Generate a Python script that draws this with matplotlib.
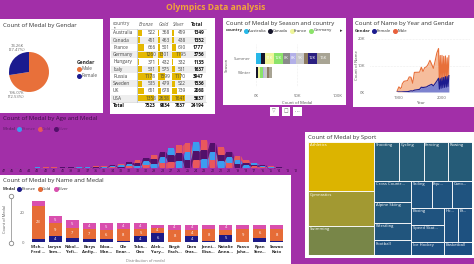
import numpy as np
import matplotlib.pyplot as plt
from matplotlib.patches import Rectangle
from matplotlib.lines import Line2D
from matplotlib.colors import LinearSegmentedColormap

plt.rcParams['font.family'] = ['Open Sans', 'DejaVu Sans']

W, H = 474, 264
BG = '#a22fa8'

# ---------------- data ----------------
gender_labels = ['Male', 'Female']
gender_counts = [196070, 74260]
gender_colors = ['#e8703a', '#1b1b8f']

countries = ['Australia', 'Canada', 'France', 'Germany', 'Hungary',
             'Italy', 'Russia', 'Sweden', 'UK', 'USA']
bronze = [522, 451, 666, 1260, 371, 531, 1178, 535, 651, 1358]
gold = [368, 463, 501, 1301, 432, 575, 1599, 479, 678, 2638]
silver = [459, 438, 610, 1195, 332, 531, 1170, 522, 739, 1641]

seasons = ['Summer', 'Winter']
summer_medals = [6500, 4000, 11000, 11500, 8000, 8000, 9000, 5000, 11500, 15500]
winter_medals = [400, 2000, 2200, 3500, 100, 1800, 3000, 2500, 700, 3200]
country_colors = ['#27b8e8', '#15152a', '#eef59a', '#8be36a', '#8a8a8a',
                  '#b3b0e8', '#c9c9c9', '#8c7a60', '#2a1f80', '#a8a494']

years = [1896, 1900, 1904, 1906, 1908, 1912, 1920, 1924, 1928, 1932, 1936,
         1948, 1952, 1956, 1960, 1964, 1968, 1972, 1976, 1980, 1984, 1988,
         1992, 1994, 1996, 1998, 2000, 2002, 2004, 2006, 2008, 2010, 2012,
         2014, 2016]
female_names = [0, 33, 16, 11, 47, 87, 134, 261, 462, 369, 700, 1000, 1800,
                1700, 1800, 1900, 2300, 2600, 2900, 2300, 3200, 4100, 5200,
                1100, 5000, 1400, 5400, 1600, 5500, 1750, 5800, 1850, 5800,
                2100, 6200]
male_names = [380, 1903, 1285, 1722, 3054, 3953, 4158, 5432, 5112, 2952, 6701,
              6480, 7558, 6041, 7435, 7580, 8179, 9359, 7602, 6637, 8388,
              10576, 11213, 2060, 8780, 2205, 8421, 2509, 7943, 2632, 7802,
              2552, 7120, 2791, 7488]

ages = [47, 46, 45, 44, 43, 42, 41, 40, 39, 38, 37, 36, 35, 34, 33, 32, 31, 30,
        29, 28, 27, 26, 25, 24, 23, 22, 21, 20, 19, 18, 17, 16, 15, 14, 13, 12]
age_bronze = [5, 6, 7, 6, 9, 8, 10, 12, 14, 17, 20, 27, 35, 52, 66, 95, 120, 170,
              210, 270, 330, 360, 400, 430, 440, 410, 320, 270, 200, 130, 90, 50,
              25, 12, 5, 2]
age_gold = [6, 4, 7, 8, 8, 9, 11, 11, 13, 18, 19, 28, 40, 46, 70, 85, 130, 160,
            230, 250, 300, 380, 420, 400, 470, 380, 350, 250, 210, 140, 80, 45,
            28, 11, 6, 1]
age_silver = [4, 5, 6, 6, 8, 8, 9, 12, 13, 15, 21, 25, 35, 52, 64, 95, 125, 170,
              210, 280, 320, 360, 380, 420, 440, 410, 330, 280, 190, 130, 80, 55,
              22, 12, 4, 2]
age_colors = ['#3c9cf0', '#e8585c', '#52106a']

athletes = ['Mich...\nFred ...', 'Larysa\nSem...', 'Nikol...\nYefi...',
            'Borys\nAnfiy...', 'Edoa...\nMan...', 'Ole\nEinar...',
            'Taka...\nOno', 'Alek...\nYury...', 'Birgit\nFisch...',
            'Dara\nGras...', 'Jenni...\nElisa...', 'Natalie\nAnna...',
            'Paavo\nJoha...', 'Ryan\nStev...', 'Sawao\nKato']
ath_bronze = [2, 4, 3, 2, 2, 1, 4, 6, 0, 4, 1, 5, 0, 3, 1]
ath_gold = [23, 9, 7, 7, 6, 8, 5, 4, 8, 4, 8, 3, 9, 6, 8]
ath_silver = [3, 5, 5, 4, 5, 4, 4, 2, 4, 4, 3, 4, 3, 3, 3]
medal_colors = ['#1c1a86', '#e66c37', '#d94fae']

sports = ['Athletics', 'Gymnastics', 'Swimming', 'Shooting', 'Cycling',
          'Fencing', 'Rowing', 'Cross Countr...', 'Alpine Skiing', 'Wrestling',
          'Football', 'Sailing', 'Equ...', 'Cano...', 'Boxing', 'Speed Skat...',
          'Ice Hockey', 'Ho...', 'Bi...', 'Basketball']
sport_medals = [1617, 1122, 957, 475, 470, 468, 465, 378, 376, 324, 262, 270,
                270, 268, 272, 270, 208, 238, 236, 182]
sport_groups = [3, 4, 4, 3, 3, 2, 1]

# ---------------- helpers ----------------
fig = plt.figure(figsize=(W / 100, H / 100), dpi=100)
fig.patch.set_facecolor(BG)
R = fig.canvas.get_renderer()


def box(x0, y0, x1, y1, color='white'):
    fig.add_artist(Rectangle((x0 / W, 1 - y1 / H), (x1 - x0) / W, (y1 - y0) / H,
                             transform=fig.transFigure, facecolor=color,
                             edgecolor='none', zorder=0))


def ax_at(x0, y0, x1, y1):
    return fig.add_axes([x0 / W, 1 - y1 / H, (x1 - x0) / W, (y1 - y0) / H])


def ftext(x, y, s, **kw):
    kw.setdefault('va', 'center')
    return fig.text(x / W, 1 - y / H, s, **kw)


def inline_legend(x, y, title, labels, colors, tcolor='#333333', fs=3.4):
    t = ftext(x, y, title, fontsize=fs, fontweight='bold', color=tcolor)
    cx = t.get_window_extent(R).x1 + 3
    for lab, col in zip(labels, colors):
        fig.add_artist(Line2D([cx / W], [1 - y / H], marker='o', markersize=2.6,
                              color=col, linestyle='none',
                              transform=fig.transFigure))
        t = ftext(cx + 2.5, y, lab, fontsize=fs, color=tcolor)
        cx = t.get_window_extent(R).x1 + 4


def strip_treemap(values, groups, x, y, w, h):
    vals = np.array(values, float)
    vals = vals * (w * h) / vals.sum()
    rects, idx = [], 0
    for c in groups:
        part = vals[idx:idx + c]
        if w >= h:
            cw = part.sum() / h
            yy = y
            for a in part:
                rects.append((x, yy, cw, a / cw))
                yy += a / cw
            x += cw
            w -= cw
        else:
            rh = part.sum() / w
            xx = x
            for a in part:
                rects.append((xx, y, a / rh, rh))
                xx += a / rh
            y += rh
            h -= rh
        idx += c
    return rects


# ---------------- title ----------------
ftext(216, 8, 'Olympics Data analysis', fontsize=6.2, fontweight='bold',
      color='#f2a33a', ha='center')

# ---------------- pie ----------------
box(0, 19, 103, 113)
ftext(3, 25, 'Count of Medal by Gendar', fontsize=4.3, color='#333333')
ax_p = ax_at(8, 51, 50, 93)
ax_p.pie(gender_counts, colors=gender_colors, startangle=90, counterclock=False,
         wedgeprops=dict(linewidth=0))
ax_p.set_xlim(-1.05, 1.05)
ax_p.set_ylim(-1.05, 1.05)
tot = sum(gender_counts)
ftext(17, 48, f'{gender_counts[1] / 1000:.2f}K\n({gender_counts[1] / tot:.2%})',
      fontsize=3.0, color='#666666', ha='center', linespacing=1.1)
ftext(16, 95, f'{gender_counts[0] / 1000:.2f}K\n({gender_counts[0] / tot:.2%})',
      fontsize=3.0, color='#666666', ha='center', linespacing=1.1)
ftext(77, 62, 'Gendar', fontsize=3.6, fontweight='bold', color='#333333')
for i, (lab, col) in enumerate(zip(gender_labels, gender_colors)):
    fig.add_artist(Line2D([79 / W], [1 - (69 + 6.5 * i) / H], marker='o',
                          markersize=2.6, color=col, linestyle='none',
                          transform=fig.transFigure))
    ftext(81, 69 + 6.5 * i, lab, fontsize=3.4, color='#555555')

# ---------------- table ----------------
box(110, 18, 215, 114)
ax_t = ax_at(110, 18, 215, 114)
ax_t.set_xlim(110, 215)
ax_t.set_ylim(114, 18)
ax_t.axis('off')
col_left = [137, 157, 171]
col_right = [156, 170, 186]
ftext(113, 24, 'country', fontsize=3.5, color='#555555')
ftext(114, 27.5, '▲', fontsize=1.6, color='#555555', family='DejaVu Sans')
for name, xl in zip(['Bronze', 'Gold', 'Silver'], col_left):
    ftext(xl + 1.5, 24, name, fontsize=3.5, color='#555555', style='italic')
ftext(191, 24, 'Total', fontsize=3.5, color='#222222', fontweight='bold')
ax_t.plot([111, 206], [29, 29], color='#cccccc', lw=0.4)
row_y = 33 + 7.25 * np.arange(len(countries))
for i, c in enumerate(countries):
    if i % 2 == 1:
        ax_t.add_patch(Rectangle((111, row_y[i] - 3.6), 95, 7.2,
                                 facecolor='#eeeeee', edgecolor='none'))
    ax_t.text(113, row_y[i], c, fontsize=3.4, color='#444444', va='center')
for vals, xl, xr in zip([bronze, gold, silver], col_left, col_right):
    v = np.array(vals, float)
    frac = (v - v.min()) / (v.max() - v.min())
    bw = (xr - xl) * 0.8
    for i in range(len(v)):
        ax_t.add_patch(Rectangle((xl + 1, row_y[i] - 3.2), 1.2 + frac[i] * bw, 6.4,
                                 facecolor='#e4b800', edgecolor='none'))
        ax_t.text(xr, row_y[i], f'{vals[i]}', fontsize=3.4, color='#444444',
                  va='center', ha='right')
totals = [b + g + s for b, g, s in zip(bronze, gold, silver)]
for i, t in enumerate(totals):
    ax_t.text(204, row_y[i], f'{t}', fontsize=3.4, color='#111111',
              va='center', ha='right', fontweight='bold')
ty = row_y[-1] + 7.3
ax_t.plot([111, 206], [ty - 3.8, ty - 3.8], color='#cccccc', lw=0.4)
ax_t.text(113, ty, 'Total', fontsize=3.4, color='#111111', va='center',
          fontweight='bold')
for vals, xr in zip([bronze, gold, silver, totals], col_right + [204]):
    ax_t.text(xr, ty, f'{sum(vals)}', fontsize=3.4, color='#111111', va='center',
              ha='right', fontweight='bold')
ax_t.plot([137, 137], [29, ty - 3.8], color='#9fb3c8', lw=0.4)

# ---------------- season ----------------
box(223, 18, 346, 105)
ftext(226, 23, 'Count of Medal by Season and country', fontsize=4.3,
      color='#333333')
inline_legend(226, 30.5, 'country', countries[:4], country_colors[:4], fs=3.1)
ftext(340, 30.5, '▸', fontsize=3.5, color='#333333', family='DejaVu Sans')
ax_s = ax_at(256, 43.8, 338, 87.3)
ax_s.set_facecolor('none')
left = np.zeros(2)
for i, c in enumerate(countries):
    vals = np.array([summer_medals[i], winter_medals[i]])
    ax_s.barh([0, 1], vals, left=left, height=0.76, color=country_colors[i],
              linewidth=0, zorder=3)
    for j in range(2):
        if vals[j] >= 8000:
            ax_s.text(left[j] + vals[j] / 2, j, f'{vals[j] / 1000:.0f}K',
                      fontsize=3.0, color='white', ha='center', va='center',
                      zorder=4)
    left += vals
ax_s.set_xlim(0, 100000)
ax_s.set_ylim(2, -1)
ax_s.set_xticks([0, 50000, 100000], ['0K', '50K', '100K'])
ax_s.set_yticks([0, 1], seasons)
ax_s.tick_params(length=0, labelsize=3.1, labelcolor='#666666')
ax_s.tick_params(axis='x', pad=5)
ax_s.grid(axis='x', color='#dddddd', lw=0.4, ls=':')
for sp in ax_s.spines.values():
    sp.set_visible(False)
ftext(297, 103, 'Count of Medal', fontsize=3.1, color='#555555', ha='center')
ftext(226.5, 65, 'Season', fontsize=3.1, color='#555555', ha='center',
      rotation=90)
for k, sym in enumerate(['▽', '□', '⋯']):
    box(270 + 11.5 * k, 107, 278.5 + 11.5 * k, 115.5)
    ftext(274.2 + 11.5 * k, 111.2, sym, fontsize=3.4, color='#666666',
          ha='center', family='DejaVu Sans')

# ---------------- year ----------------
box(353, 18, 474, 107)
ftext(355, 23, 'Count of Name by Year and Gendar', fontsize=4.3, color='#333333')
inline_legend(355, 30.5, 'Gendar', ['Female', 'Male'], ['#1b1b8f', '#e8603c'],
              fs=3.1)
ax_y = ax_at(370, 39, 470, 92)
fem = np.array(female_names)
top = fem + np.array(male_names)
ax_y.fill_between(years, fem, top, color='#f6bd9c', lw=0)
ax_y.fill_between(years, 0, fem, color='#7d83cf', lw=0)
ax_y.plot(years, top, color='#e8703a', lw=0.8)
ax_y.plot(years, fem, color='#1b1b8f', lw=0.8)
ax_y.set_xlim(1833, 2065)
ax_y.set_ylim(0, 20000)
ax_y.set_xticks([1900, 2000])
ax_y.set_yticks([0, 10000, 20000], ['0K', '10K', '20K'])
ax_y.tick_params(length=0, labelsize=3.1, labelcolor='#666666')
ax_y.tick_params(axis='x', pad=3)
ax_y.grid(axis='y', color='#dddddd', lw=0.4, ls=':')
for sp in ax_y.spines.values():
    sp.set_visible(False)
ftext(420, 103, 'Year', fontsize=3.1, color='#555555', ha='center')
ftext(356.5, 65, 'Count of Name', fontsize=3.1, color='#555555', ha='center',
      rotation=90)

# ---------------- age ribbon ----------------
ftext(3, 119, 'Count of Medal by Age and Medal', fontsize=4.3, color='#3a0f45')
inline_legend(3, 129, 'Medal', ['Bronze', 'Gold', 'Silver'], age_colors,
              tcolor='#6d2277', fs=3.1)
ax_a = ax_at(0, 132, 300, 168)
ax_a.set_facecolor('none')
series = np.array([age_bronze, age_gold, age_silver], float)
n = series.shape[1]
bottoms = np.zeros_like(series)
for i in range(n):
    b = 0
    for s in np.argsort(series[:, i]):
        bottoms[s, i] = b
        b += series[s, i]
bw = 0.66
t = np.linspace(0, 1, 24)
sm = (1 - np.cos(np.pi * t)) / 2
for s in range(3):
    ax_a.bar(np.arange(n), series[s], bw, bottom=bottoms[s],
             color=age_colors[s], linewidth=0)
    for i in range(n - 1):
        xs = i + bw / 2 + t * (1 - bw)
        y0 = bottoms[s, i] + (bottoms[s, i + 1] - bottoms[s, i]) * sm
        h = series[s, i] + (series[s, i + 1] - series[s, i]) * sm
        ax_a.fill_between(xs, y0, y0 + h, color=age_colors[s], alpha=0.85,
                          linewidth=0)
ax_a.set_xlim(-0.5, n - 0.5)
ax_a.set_ylim(0, 1750)
ax_a.set_xticks(np.arange(n), [str(a) for a in ages])
ax_a.set_yticks([])
ax_a.tick_params(length=0, labelsize=2.6, labelcolor='#3a0f45', pad=1)
for sp in ax_a.spines.values():
    sp.set_visible(False)

# ---------------- names ----------------
box(0, 175, 291, 264)
ftext(3, 180.5, 'Count of Medal by Name and Medal', fontsize=4.3,
      color='#333333')
inline_legend(3, 189, 'Medal', ['Bronze', 'Gold', 'Silver'], medal_colors,
              fs=3.1)
ax_n = ax_at(29.5, 196, 285.5, 242)
xs = np.arange(len(athletes))
base = np.zeros(len(athletes))
for vals, col in zip([ath_bronze, ath_gold, ath_silver], medal_colors):
    vals = np.array(vals, float)
    ax_n.bar(xs, vals, 0.76, bottom=base, color=col, linewidth=0)
    for i in range(len(xs)):
        if vals[i] >= 4:
            ax_n.text(xs[i], base[i] + vals[i] / 2, f'{vals[i]:.0f}',
                      fontsize=3.0, color='white', ha='center', va='center')
    base += vals
ax_n.set_xlim(-0.5, len(athletes) - 0.5)
ax_n.set_ylim(0, 46 / 1.45)
ax_n.set_yticks([0, 20])
ax_n.set_xticks(xs, athletes)
ax_n.tick_params(length=0, labelsize=3.1, labelcolor='#666666')
ax_n.tick_params(axis='x', labelcolor='#222222', pad=2)
for lab in ax_n.get_xticklabels():
    lab.set_fontweight('bold')
    lab.set_linespacing(1.3)
for sp in ax_n.spines.values():
    sp.set_visible(False)
ftext(145, 260.5, 'Distribution of medal', fontsize=2.8, color='#777777',
      ha='center')
fig.add_artist(Line2D([11 / W, 11 / W], [1 - 196 / H, 1 - 243 / H],
                      color='#999999', lw=0.6, transform=fig.transFigure))
fig.add_artist(Line2D([11 / W, 11 / W], [1 - 196 / H, 1 - 243 / H], marker='o',
                      markersize=3.2, markerfacecolor='white',
                      markeredgecolor='#888888', markeredgewidth=0.6,
                      linestyle='none', transform=fig.transFigure))
ftext(5, 219, 'Count of Medal', fontsize=2.8, color='#555555', ha='center',
      rotation=90)

# ---------------- treemap ----------------
box(305, 132, 474, 258)
ftext(308, 137, 'Count of Medal by Sport', fontsize=4.3, color='#333333')
ax_m = ax_at(308, 141.5, 472, 255)
ax_m.set_xlim(0, 164)
ax_m.set_ylim(113.5, 0)
ax_m.axis('off')
cmap = LinearSegmentedColormap.from_list('tm', ['#1c4f82', '#2c6470', '#a69b30',
                                               '#dcb400'], N=256)
sv = np.array(sport_medals, float)
norm = (sv - sv.min()) / (sv.max() - sv.min())
for (rx, ry, rw, rh), lab, f in zip(strip_treemap(sport_medals, sport_groups,
                                                  0, 0, 164, 113.5),
                                    sports, norm):
    ax_m.add_patch(Rectangle((rx, ry), rw, rh, facecolor=cmap(f),
                             edgecolor='white', linewidth=0.6))
    ax_m.text(rx + 1.5, ry + 3.5, lab, fontsize=3.0, color='white', va='center')

fig.savefig('out.png', dpi=100, facecolor=BG)
